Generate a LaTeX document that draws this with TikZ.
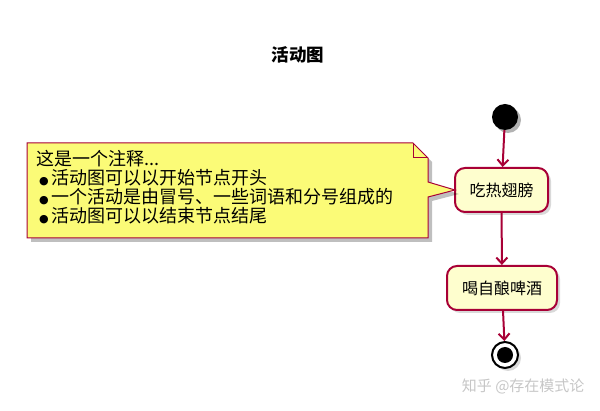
\documentclass[tikz,border=0pt]{standalone}
\usepackage{fontspec}
\setmainfont{Noto Sans CJK SC}
\newfontfamily\dvs{DejaVu Sans}
\usetikzlibrary{shadows,arrows.meta}
\definecolor{bd}{HTML}{A80036}
\definecolor{actf}{HTML}{FEFECE}
\definecolor{notef}{HTML}{FBFB77}
\newcommand{\blt}{{\dvs\fontsize{11}{16}\selectfont ●}\hspace{3pt}}
\tikzset{
 act/.style={draw=bd,line width=2pt,fill=actf,rounded corners=10pt,minimum height=44pt,inner xsep=10pt,font=\fontsize{16}{18}\selectfont,drop shadow={shadow xshift=3pt,shadow yshift=-3pt,opacity=0.3}},
 flow/.style={draw=bd,line width=2pt,-{Straight Barb[length=6pt,width=11pt]}},
}
\begin{document}
\begin{tikzpicture}[x=1pt,y=-1pt]
\useasboundingbox (0,0) rectangle (600,411);
\node[font=\bfseries\fontsize{17.5}{20}\selectfont] (title) at (298,55) {活动图};
\fill[black,opacity=0.3] (508,120) circle (13);
\fill[black] (505,117) circle (13);
\node[circle,minimum size=26pt,inner sep=0] (s) at (505,117) {};
\node[act,minimum width=93pt] (a1) at (501.5,190) {吃热翅膀};
\node[act,minimum width=110pt] (a2) at (502,288) {喝自酿啤酒};
\node[circle,draw=black,fill=white,line width=2pt,minimum size=26pt,inner sep=0,drop shadow={shadow xshift=3pt,shadow yshift=-3pt,opacity=0.3}] (e) at (505,355) {};
\fill[black] (505,355) circle (8);
\draw[flow] (s) -- (a1);
\draw[flow] (a1) -- (a2);
\draw[flow] (a2) -- (e);
% note
\fill[black,opacity=0.25] (31,147) -- (417,147) -- (432,162) -- (432,186) -- (459,194) -- (432,201) -- (432,242) -- (31,242) -- cycle;
\draw[bd,fill=notef,line width=1pt] (27,143) -- (413,143) -- (428,158) -- (428,182) -- (455,190) -- (428,197) -- (428,238) -- (27,238) -- cycle;
\draw[bd,line width=1pt] (413,143) -- (413,158) -- (428,158);
\node[anchor=north west,align=left,inner sep=0,font=\fontsize{18}{20}\selectfont] (note) at (36,150) {这是一个注释...\\[-1pt]
\,\blt 活动图可以以开始节点开头\\[-1pt]
\,\blt 一个活动是由冒号、一些词语和分号组成的\\[-1pt]
\,\blt 活动图可以以结束节点结尾};
\node[text=gray!45,font=\fontsize{15}{17}\selectfont,anchor=east] (wm) at (588,386) {知乎 @存在模式论};
\end{tikzpicture}
\end{document}
